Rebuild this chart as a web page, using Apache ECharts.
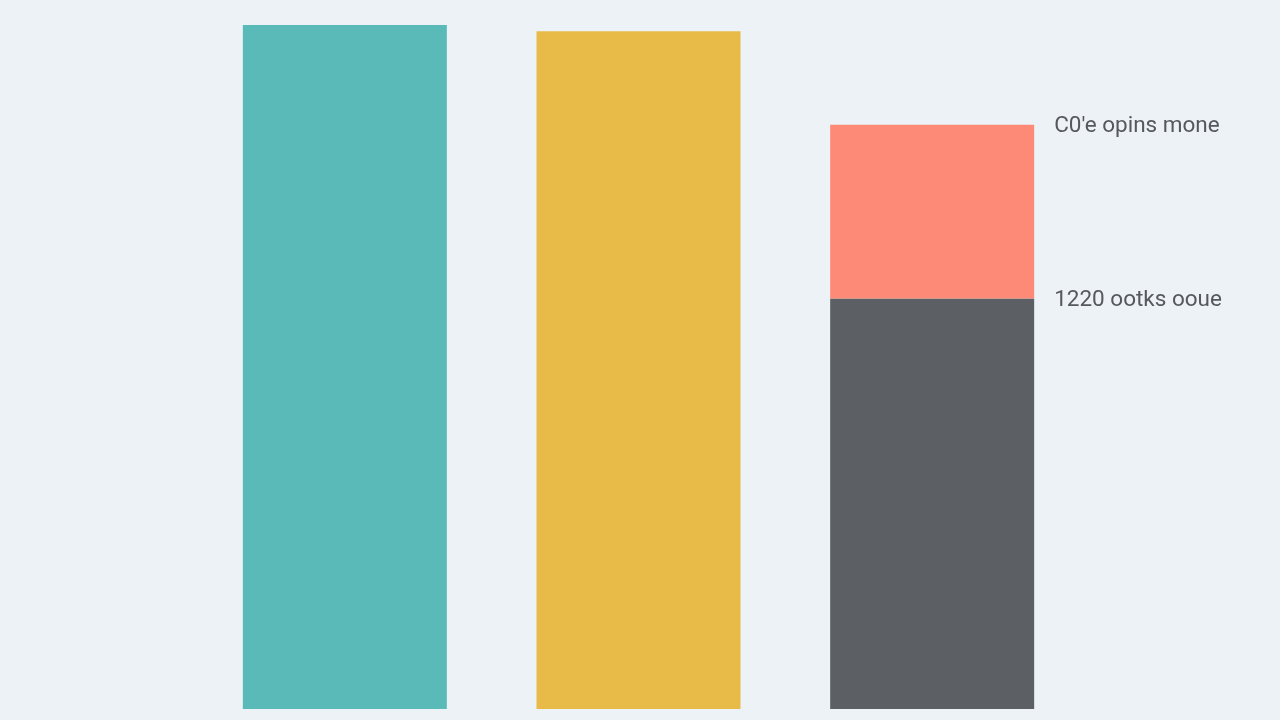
<!DOCTYPE html>
<html><head><meta charset="utf-8">
<script src="https://cdn.jsdelivr.net/npm/echarts@6/dist/echarts.min.js"></script>
<style>html,body{margin:0;padding:0;background:#edf2f7;}#c{width:1280px;height:720px;}</style>
</head><body><div id="c"></div>
<script>
var categories = ['A', 'B', 'C'];
var baseValues = [100, 99.1, 60];
var topValues = [null, null, 25.4];
var segmentLabels = ['1220 ootks ooue', "C0'e opins mone"];

var chart = echarts.init(document.getElementById('c'));
function lbl(text) {
  return {
    show: true, position: ['100%', 0], offset: [20, 2], align: 'left', verticalAlign: 'middle',
    formatter: function(p){ return p.dataIndex === 2 ? text : ''; },
    color: '#55585c', fontSize: 22.5, fontFamily: 'Roboto, sans-serif'
  };
}
chart.setOption({
  backgroundColor: '#edf2f7',
  animation: false,
  grid: {left: 198, right: 201, top: 25, bottom: 11},
  xAxis: {type: 'category', data: categories, show: false},
  yAxis: {type: 'value', min: 0, max: 100, show: false},
  series: [
    {type: 'bar', stack: 's', barWidth: 204, data: [
      {value: baseValues[0], itemStyle: {color: '#59bab8'}},
      {value: baseValues[1], itemStyle: {color: '#e8bb49'}},
      {value: baseValues[2], itemStyle: {color: '#5c6065'}}
    ], label: lbl(segmentLabels[0])},
    {type: 'bar', stack: 's', barWidth: 204, data: topValues,
      itemStyle: {color: '#fd8a76'}, label: lbl(segmentLabels[1])}
  ]
});
</script></body></html>
